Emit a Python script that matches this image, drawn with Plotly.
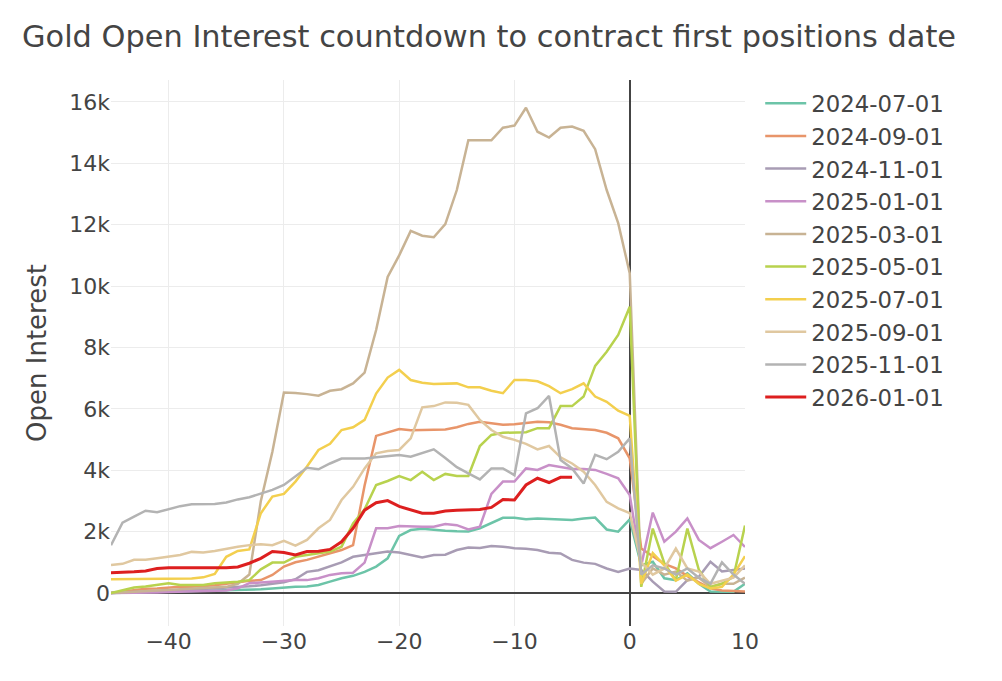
import plotly.graph_objects as go

days = list(range(-45, 11))

series_names = ["2024-07-01", "2024-09-01", "2024-11-01", "2025-01-01", "2025-03-01",
                "2025-05-01", "2025-07-01", "2025-09-01", "2025-11-01", "2026-01-01"]

colors = ["#6cc4a8", "#e8956a", "#a89cb4", "#c890c8", "#c8b394",
          "#b8d24e", "#f3cf4e", "#e0c8a0", "#b3b3b3", "#dd1f1f"]

# open interest, in thousands of contracts
oi_2024_07 = [0.00, 0.00, 0.02, 0.03, 0.05, 0.05, 0.06, 0.07, 0.08, 0.08, 0.09, 0.10,
              0.10, 0.12, 0.15, 0.18, 0.20, 0.21, 0.26, 0.37, 0.48, 0.56, 0.69, 0.86, 1.13,
              1.86, 2.05, 2.09, 2.05, 2.03, 2.01, 2.00, 2.11, 2.27, 2.45, 2.45,
              2.40, 2.43, 2.41, 2.41, 2.38, 2.43, 2.46, 2.07, 2.00, 2.40,
              0.90, 1.02, 0.48, 0.42, 0.64, 0.30, 0.05, 0.04, 0.04, 0.30]
oi_2024_09 = [0.00, 0.05, 0.10, 0.14, 0.15, 0.18, 0.20, 0.20, 0.22, 0.25, 0.30, 0.35,
              0.40, 0.42, 0.59, 0.86, 1.00, 1.08, 1.18, 1.29, 1.40, 1.56, 3.50, 5.12, 5.24,
              5.34, 5.30, 5.31, 5.32, 5.33, 5.40, 5.51, 5.58, 5.53, 5.48, 5.50,
              5.53, 5.58, 5.56, 5.48, 5.37, 5.33, 5.31, 5.22, 5.04, 4.39,
              1.45, 1.20, 0.95, 0.80, 0.55, 0.35, 0.15, 0.08, 0.06, 0.05]
oi_2024_11 = [0.00, 0.02, 0.03, 0.05, 0.05, 0.07, 0.08, 0.10, 0.12, 0.15, 0.17, 0.20,
              0.22, 0.25, 0.30, 0.35, 0.45, 0.69, 0.74, 0.86, 1.00, 1.18, 1.24, 1.29, 1.35,
              1.32, 1.24, 1.16, 1.24, 1.25, 1.40, 1.48, 1.47, 1.53, 1.51, 1.46,
              1.44, 1.40, 1.31, 1.29, 1.08, 0.99, 0.95, 0.80, 0.69, 0.80,
              0.75, 0.37, 0.05, 0.04, 0.42, 0.53, 1.02, 0.70, 0.75, 0.80]
oi_2025_01 = [0.00, 0.00, 0.01, 0.02, 0.02, 0.03, 0.04, 0.05, 0.05, 0.06, 0.08, 0.15,
              0.32, 0.34, 0.37, 0.40, 0.42, 0.42, 0.48, 0.59, 0.64, 0.66, 0.99, 2.11, 2.11,
              2.18, 2.16, 2.16, 2.16, 2.25, 2.21, 2.07, 2.16, 3.23, 3.63, 3.63,
              4.06, 4.01, 4.17, 4.10, 4.04, 4.04, 4.01, 3.88, 3.74, 3.19,
              0.90, 2.62, 1.67, 2.00, 2.43, 1.73, 1.46, 1.67, 1.89, 1.50]
oi_2025_03 = [0.00, 0.02, 0.05, 0.05, 0.08, 0.10, 0.12, 0.15, 0.15, 0.18, 0.20, 0.30,
              0.60, 3.00, 4.60, 6.53, 6.52, 6.48, 6.43, 6.59, 6.64, 6.83, 7.18, 8.57, 10.30,
              11.00, 11.80, 11.64, 11.59, 12.02, 13.13, 14.75, 14.75, 14.75, 15.16, 15.23,
              15.81, 15.03, 14.84, 15.16, 15.20, 15.06, 14.46, 13.13, 12.05, 10.42,
              0.30, 0.80, 0.60, 0.70, 0.40, 0.50, 0.20, 0.30, 0.30, 0.50]
oi_2025_05 = [0.00, 0.10, 0.18, 0.21, 0.26, 0.32, 0.26, 0.26, 0.26, 0.32, 0.34, 0.37,
              0.42, 0.77, 0.99, 0.99, 1.18, 1.24, 1.31, 1.35, 1.51, 2.27, 2.73, 3.52, 3.65,
              3.81, 3.68, 3.95, 3.68, 3.88, 3.81, 3.81, 4.79, 5.15, 5.22, 5.22,
              5.24, 5.37, 5.37, 6.09, 6.09, 6.40, 7.40, 7.86, 8.41, 9.33,
              0.20, 2.10, 0.97, 0.42, 2.10, 0.75, 0.20, 0.30, 0.53, 2.20]
oi_2025_07 = [0.45, 0.45, 0.45, 0.45, 0.45, 0.45, 0.46, 0.47, 0.51, 0.62, 1.18, 1.37,
              1.42, 2.60, 3.14, 3.23, 3.63, 4.12, 4.66, 4.86, 5.31, 5.40, 5.64, 6.50, 7.02,
              7.27, 6.94, 6.85, 6.81, 6.81, 6.83, 6.70, 6.70, 6.59, 6.51, 6.94,
              6.94, 6.90, 6.74, 6.51, 6.64, 6.83, 6.40, 6.23, 5.94, 5.77,
              0.30, 1.30, 0.90, 0.40, 0.60, 0.30, 0.15, 0.20, 0.60, 1.20]
oi_2025_09 = [0.91, 0.95, 1.08, 1.08, 1.13, 1.18, 1.24, 1.34, 1.32, 1.37, 1.45, 1.51,
              1.56, 1.59, 1.56, 1.70, 1.54, 1.73, 2.11, 2.38, 3.03, 3.46, 4.06, 4.55, 4.63,
              4.66, 5.04, 6.05, 6.09, 6.21, 6.20, 6.13, 5.64, 5.31, 5.09, 4.99,
              4.86, 4.68, 4.79, 4.42, 4.22, 3.95, 3.52, 2.97, 2.76, 2.60,
              1.00, 0.60, 0.80, 1.45, 0.80, 0.70, 0.30, 0.40, 0.50, 0.90]
oi_2025_11 = [1.56, 2.29, 2.49, 2.68, 2.63, 2.73, 2.83, 2.89, 2.89, 2.90, 2.95, 3.05,
              3.12, 3.25, 3.36, 3.52, 3.79, 4.08, 4.03, 4.22, 4.38, 4.38, 4.38, 4.42, 4.46,
              4.50, 4.44, 4.55, 4.68, 4.40, 4.10, 3.90, 3.70, 4.06, 4.06, 3.84,
              5.85, 6.02, 6.42, 4.33, 4.06, 3.57, 4.50, 4.36, 4.60, 5.04,
              0.60, 0.90, 0.80, 0.60, 0.80, 0.50, 0.30, 1.00, 0.60, 0.30]
oi_2026_01 = [0.66, 0.67, 0.69, 0.72, 0.80, 0.82, 0.82, 0.82, 0.82, 0.82, 0.82, 0.85,
              0.97, 1.13, 1.35, 1.32, 1.24, 1.35, 1.36, 1.42, 1.67, 2.11, 2.70, 2.94, 3.01,
              2.82, 2.70, 2.60, 2.60, 2.67, 2.70, 2.72, 2.72, 2.79, 3.05, 3.03,
              3.52, 3.74, 3.60, 3.77, 3.77,
              None, None, None, None, None, None, None, None, None, None,
              None, None, None, None, None]

all_series = [oi_2024_07, oi_2024_09, oi_2024_11, oi_2025_01, oi_2025_03,
              oi_2025_05, oi_2025_07, oi_2025_09, oi_2025_11, oi_2026_01]

fig = go.Figure()
for name, vals, col in zip(series_names, all_series, colors):
    y = [None if v is None else v * 1000 for v in vals]
    fig.add_trace(go.Scatter(
        x=days, y=y, mode="lines", name=name,
        line=dict(color=col, width=3 if name == "2026-01-01" else 2.5),
    ))

fig.update_layout(
    width=1002, height=681,
    template="plotly_white",
    paper_bgcolor="white", plot_bgcolor="white",
    font=dict(family="Verdana, DejaVu Sans, sans-serif", size=22, color="#444"),
    title=dict(text="Gold Open Interest countdown to contract first positions date",
               x=0.014, xanchor="left", y=0.958, yanchor="middle",
               font=dict(size=30.4, color="#444")),
    margin=dict(l=103, r=265, t=72, b=63, autoexpand=False),
    showlegend=True,
    legend=dict(x=1.024, y=0.9963, xanchor="left", yanchor="top",
                font=dict(size=22.8), itemwidth=41, bgcolor="rgba(0,0,0,0)"),
    xaxis=dict(range=[-45, 10], dtick=10, gridcolor="#ececec", gridwidth=1,
               zeroline=True, zerolinecolor="#444", zerolinewidth=1.5,
               showline=False, ticks="", automargin=False),
    yaxis=dict(range=[-1075, 16715], dtick=2000, gridcolor="#ececec", gridwidth=1,
               zeroline=True, zerolinecolor="#444", zerolinewidth=1.5,
               showline=False, ticks="", automargin=False,
               title=dict(text="Open Interest")),
)

fig.write_html("out.html")
